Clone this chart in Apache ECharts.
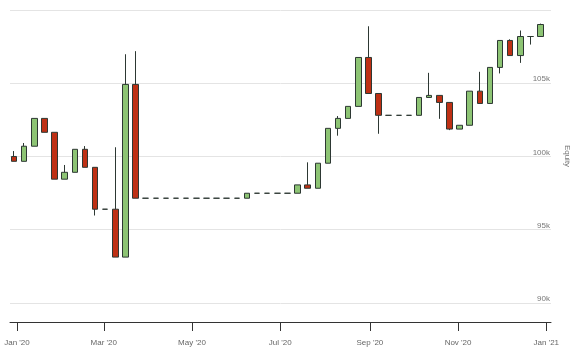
<!DOCTYPE html>
<html>
<head>
<meta charset="utf-8">
<script src="https://cdn.jsdelivr.net/npm/echarts@6/dist/echarts.min.js"></script>
<style>html,body{margin:0;padding:0;background:#fff}#c{width:580px;height:360px}</style>
</head>
<body>
<div id="c"></div>
<script>
var weeks = ['2019-12-30','2020-01-06','2020-01-13','2020-01-20','2020-01-27','2020-02-03','2020-02-10','2020-02-17','2020-02-24','2020-03-02','2020-03-09','2020-03-16','2020-03-23','2020-03-30','2020-04-06','2020-04-13','2020-04-20','2020-04-27','2020-05-04','2020-05-11','2020-05-18','2020-05-25','2020-06-01','2020-06-08','2020-06-15','2020-06-22','2020-06-29','2020-07-06','2020-07-13','2020-07-20','2020-07-27','2020-08-03','2020-08-10','2020-08-17','2020-08-24','2020-08-31','2020-09-07','2020-09-14','2020-09-21','2020-09-28','2020-10-05','2020-10-12','2020-10-19','2020-10-26','2020-11-02','2020-11-09','2020-11-16','2020-11-23','2020-11-30','2020-12-07','2020-12-14','2020-12-21','2020-12-28'];
var opens  = [100000,99670,100700,102600,101650,98450,98920,100490,99260,96400,96400,93130,104920,97150,97150,97150,97150,97150,97150,97150,97150,97150,97150,97150,97490,97490,97490,97490,97490,98060,97830,99540,101920,102600,103420,106760,104300,102810,102810,102810,102810,104030,104170,103690,101870,102130,104460,103620,106080,107920,106890,108190,108190];
var closes = [99670,100700,102600,101650,98450,98920,100490,99260,96400,96400,93130,104920,97150,97150,97150,97150,97150,97150,97150,97150,97150,97150,97150,97490,97490,97490,97490,97490,98060,97830,99540,101920,102600,103420,106760,104300,102810,102810,102810,102810,104030,104170,103690,101870,102130,104460,103620,106080,107920,106890,108190,108190,109010];
var lows   = [99670,99670,100700,101650,98450,98450,98920,99260,95970,96400,93130,93130,97150,97150,97150,97150,97150,97150,97150,97150,97150,97150,97150,97150,97490,97490,97490,97490,97490,97830,97830,99540,101420,102600,103420,104300,101550,102810,102810,102810,102810,104030,102570,101800,101870,102130,103620,103620,105670,106890,106390,107640,108190];
var highs  = [100370,100920,102600,102600,101650,99420,100490,100710,99260,96400,100630,106980,107190,97150,97150,97150,97150,97150,97150,97150,97150,97150,97150,97490,97490,97490,97490,97490,98060,99600,99540,101920,102760,103420,106760,108890,104300,102810,102810,102810,104030,105710,104170,103690,102130,104460,105780,106080,107920,108000,108600,108190,109070];
var tickDates = ['2020-01-01','2020-03-01','2020-05-01','2020-07-01','2020-09-01','2020-11-01','2021-01-01'];
var yTicks = [90000,95000,100000,105000];

function ts(s){ var p = s.split('-'); return Date.UTC(+p[0], +p[1]-1, +p[2]); }
var MONTHS = ['Jan','Feb','Mar','Apr','May','Jun','Jul','Aug','Sep','Oct','Nov','Dec'];
var data = weeks.map(function(w,i){ return [ts(w), opens[i], closes[i], lows[i], highs[i]]; });
var tickVals = tickDates.map(ts);

var chart = echarts.init(document.getElementById('c'), null, {renderer:'canvas'});
var dark = '#2d3833';
chart.setOption({
  animation: false,
  grid: {left: 10, right: 29, top: 10, bottom: 38},
  xAxis: {
    type: 'value',
    min: Date.UTC(2019,11,27,4),
    max: Date.UTC(2021,0,4,6),
    axisLine: {lineStyle: {color: '#333', width: 1}},
    axisTick: {show: true, length: 9, lineStyle: {color: '#333'}, customValues: tickVals},
    splitLine: {show: false},
    axisLabel: {
      customValues: tickVals,
      fontSize: 8, color: '#666', margin: 17, fontFamily: 'Liberation Sans, Arial, sans-serif',
      formatter: function(v){ var d = new Date(v); return MONTHS[d.getUTCMonth()] + " '" + String(d.getUTCFullYear()).slice(2); }
    }
  },
  yAxis: {
    type: 'value',
    position: 'right',
    min: 88700,
    max: 110000,
    name: 'Equity',
    nameLocation: 'middle',
    nameRotate: -90,
    nameGap: 12,
    nameTextStyle: {fontSize: 8, color: '#777', fontFamily: 'Liberation Sans, Arial, sans-serif', padding: [0, 20, 0, 0]},
    axisLine: {show: false},
    axisTick: {show: false},
    splitLine: {show: true, lineStyle: {color: '#e4e4e4', width: 1}},
    axisLabel: {
      inside: true, margin: 1, verticalAlign: 'bottom',
      customValues: yTicks,
      fontSize: 8, color: '#777', fontFamily: 'Liberation Sans, Arial, sans-serif',
      formatter: function(v){ return (v/1000) + 'k'; }
    }
  },
  series: [{
    type: 'candlestick',
    data: data,
    encode: {x: 0, y: [1,2,3,4]},
    barWidth: 6,
    itemStyle: {color: '#8dc474', color0: '#be3014', borderColor: dark, borderColor0: dark, borderColorDoji: dark, borderWidth: 1}
  }]
});
</script>
</body>
</html>
